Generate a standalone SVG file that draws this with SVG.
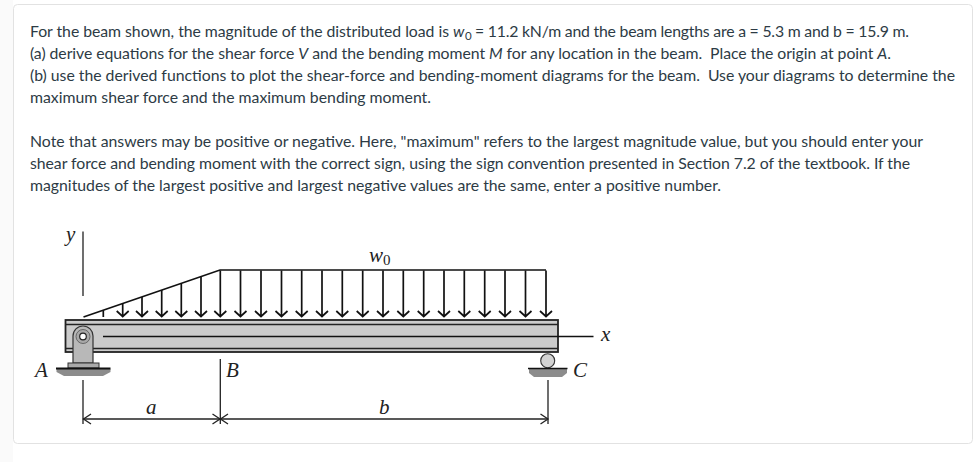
<svg xmlns="http://www.w3.org/2000/svg" width="976" height="462" viewBox="0 0 976 462">
<style>
.t{font-family:Lato,"Open Sans",sans-serif;font-size:15.8px;fill:#2d3b45;white-space:pre}
.i{font-style:italic}
.l{font-family:"Liberation Serif","Times New Roman",serif;font-style:italic;font-size:21px;fill:#222}
.a{stroke:#111;stroke-width:1.700;fill:none}
.d{stroke:#222;stroke-width:1.300;fill:none}
</style>
<defs>
<path id="ar" d="M0 0V46M-6 40.500L0 46L6 40.500" class="a"/>
</defs>
<rect width="976" height="462" fill="#fff"/>
<rect width="13" height="462" fill="#fafafa"/>
<rect x="13.500" y="4.500" width="959" height="439" rx="4" fill="#fff" stroke="#e2e2e2"/>
<g id="text">
<text class="t" x="30" y="37" textLength="423" lengthAdjust="spacing">For the beam shown, the magnitude of the distributed load is </text>
<text class="t i" x="453" y="37">w</text>
<text class="t" x="465" y="40" font-size="11" style="font-size:11.500px">0</text>
<text class="t" x="475" y="37" textLength="434" lengthAdjust="spacing">= 11.2 kN/m and the beam lengths are a = 5.3 m and b = 15.9 m.</text>
<text class="t" x="30" y="59" textLength="861" lengthAdjust="spacing">(a) derive equations for the shear force <tspan class="i">V</tspan> and the bending moment <tspan class="i">M</tspan> for any location in the beam.  Place the origin at point <tspan class="i">A</tspan>.</text>
<text class="t" x="30" y="81" textLength="925" lengthAdjust="spacing">(b) use the derived functions to plot the shear-force and bending-moment diagrams for the beam.  Use your diagrams to determine the</text>
<text class="t" x="30" y="103" textLength="401" lengthAdjust="spacing">maximum shear force and the maximum bending moment.</text>
<text class="t" x="30" y="147" textLength="893" lengthAdjust="spacing">Note that answers may be positive or negative. Here, "maximum" refers to the largest magnitude value, but you should enter your</text>
<text class="t" x="30" y="169" textLength="880" lengthAdjust="spacing">shear force and bending moment with the correct sign, using the sign convention presented in Section 7.2 of the textbook. If the</text>
<text class="t" x="30" y="191" textLength="691" lengthAdjust="spacing">magnitudes of the largest positive and largest negative values are the same, enter a positive number.</text>
</g>
<g id="beam">
<rect x="65.500" y="320" width="492.500" height="32" fill="#cbcbcb" stroke="#222" stroke-width="1.800"/>
<path d="M66 324.500H558M66 348.500H558" stroke="#222" stroke-width="1.300"/>
</g>
<g id="support-A">
<path d="M73 363V336A10 10 0 0 1 93 336V363Z" fill="#b8b8b8" stroke="#333" stroke-width="1.200"/>
<path d="M76 336.500A7 7 0 0 1 90 336.500A7 7 0 0 1 76 336.500Z" fill="#a8a8a8" stroke="#555" stroke-width=".8"/>
<circle cx="83" cy="336.500" r="3.300" fill="#fff" stroke="#222" stroke-width="1.200"/>
<rect x="68" y="363" width="31" height="5" fill="#aaa" stroke="#333"/>
<path d="M56.500 369H110.500V372L103 376H64L56.500 372Z" fill="#8c8c8c"/>
<path d="M56 368.500H110.500" stroke="#111" stroke-width="1.800"/>
</g>
<g id="support-C">
<circle cx="547.700" cy="360.700" r="7" fill="#d2d2d2" stroke="#333" stroke-width="1.100"/>
<path d="M529 369H567V373L562 377H534L529 373Z" fill="#8c8c8c"/>
<path d="M528 368.500H567.500" stroke="#111" stroke-width="1.600"/>
</g>
<g id="connectors">
<path d="M103 336.500H593.500" stroke="#111" stroke-width="1.400"/>
<path d="M83 231.500V296M83 380V424M220.300 359V424M548 380V424" class="d"/>
<path d="M83.500 317L220 270H546" class="a"/>
<path d="M83 419H548" class="d"/>
<path d="M91 414L83.500 419L91 424M212.500 414L220 419L212.500 424M228 414L220.500 419L228 424M540.500 414L548 419L540.500 424" class="d"/>
<g id="load-arrows">
<path d="M103.300 310V317" class="a"/>
<path d="M122.700 303.500V316.500M116.700 311L122.700 316.500L128.700 311M142 297V316.500M136 311L142 316.500L148 311M161.700 290V316.500M155.700 311L161.700 316.500L167.700 311M181.300 283.500V316.500M175.300 311L181.300 316.500L187.300 311M201 277V316.500M195 311L201 316.500L207 311" class="a"/>
<use href="#ar" x="220.300" y="270.500"/><use href="#ar" x="240.500" y="270.500"/><use href="#ar" x="261" y="270.500"/><use href="#ar" x="281.500" y="270.500"/><use href="#ar" x="301.700" y="270.500"/><use href="#ar" x="322" y="270.500"/><use href="#ar" x="342.300" y="270.500"/><use href="#ar" x="362.700" y="270.500"/><use href="#ar" x="383" y="270.500"/><use href="#ar" x="403.300" y="270.500"/><use href="#ar" x="423.700" y="270.500"/><use href="#ar" x="444" y="270.500"/><use href="#ar" x="464.300" y="270.500"/><use href="#ar" x="484.700" y="270.500"/><use href="#ar" x="505" y="270.500"/><use href="#ar" x="525.500" y="270.500"/><use href="#ar" x="546" y="270.500"/>
</g>
</g>
<g id="labels">
<text class="l" x="66" y="241">y</text>
<text class="l" x="35" y="377">A</text>
<text class="l" x="226" y="377">B</text>
<text class="l" x="573" y="377">C</text>
<text class="l" x="146" y="414">a</text>
<text class="l" x="379" y="414">b</text>
<text class="l" x="601" y="341">x</text>
<text class="l" x="369" y="262">w<tspan font-size="15" dy="3" style="font-style:normal">0</tspan></text>
</g>
</svg>
